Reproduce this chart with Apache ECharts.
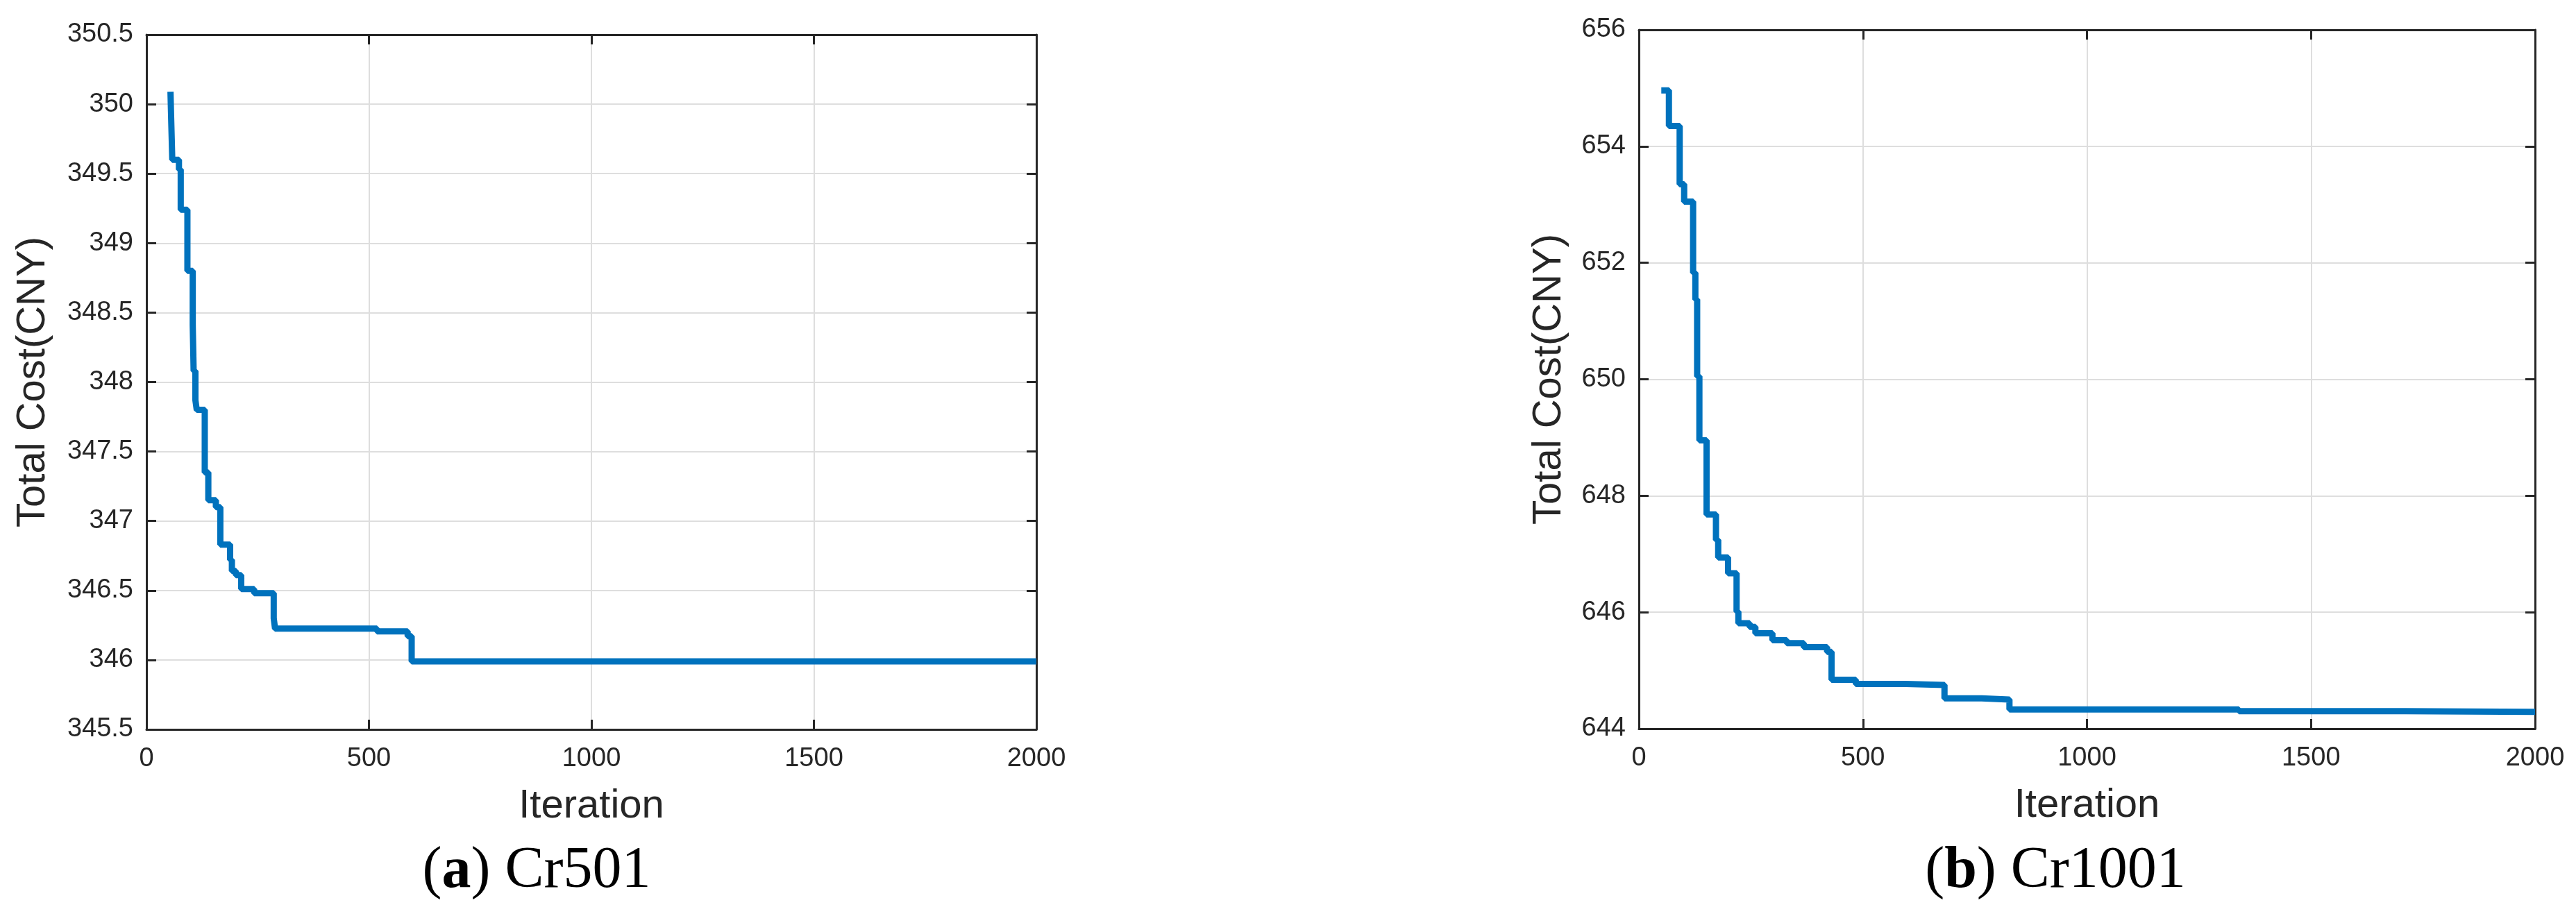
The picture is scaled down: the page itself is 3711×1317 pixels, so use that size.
<!DOCTYPE html>
<html>
<head>
<meta charset="utf-8">
<script src="https://cdn.jsdelivr.net/npm/echarts@6/dist/echarts.min.js"></script>
<style>
html,body{margin:0;padding:0;background:#fff;}
#chart{width:3711px;height:1317px;}
</style>
</head>
<body>
<div id="chart"></div>
<script>
// ---- Data ----
// (a) Cr501 : iteration at which the best cost changes, and the new best cost
const iterA = [54, 55, 58, 73, 77, 92, 104, 106, 110, 113, 131, 139, 156, 166, 188, 192, 201, 213, 242, 286, 289, 518, 587, 596, 2000];
const costA = [350.09, 349.96, 349.60, 349.53, 349.24, 348.80, 348.41, 348.08, 347.87, 347.80, 347.35, 347.15, 347.10, 346.83, 346.72, 346.64, 346.61, 346.51, 346.48, 346.30, 346.225, 346.205, 346.17, 345.99, 345.99];
// (b) Cr1001
const iterB = [50, 67, 91, 101, 121, 126, 130, 135, 151, 172, 177, 199, 218, 222, 247, 260, 298, 330, 368, 420, 430, 484, 595, 682, 765, 827, 1339, 1710, 2000];
const costB = [654.96, 654.35, 653.35, 653.05, 651.83, 651.37, 650.05, 648.95, 647.68, 647.24, 646.94, 646.67, 646.01, 645.81, 645.75, 645.64, 645.52, 645.47, 645.40, 645.32, 644.84, 644.77, 644.75, 644.52, 644.50, 644.33, 644.30, 644.29, 644.29];

const xRange = {min: 0, max: 2000, interval: 500};
const yRangeA = {min: 345.5, max: 350.5, interval: 0.5};
const yRangeB = {min: 644, max: 656, interval: 2};
const captions = ['Cr501', 'Cr1001'];
const captionLetters = ['a', 'b'];
const xName = 'Iteration';
const yName = 'Total Cost(CNY)';

// ---- Styling ----
const INK = '#262626';
const SANS = 'Arial, "Liberation Sans", sans-serif';
const SERIF = '"Times New Roman", "Liberation Serif", serif';
const LINE = '#0072BD';
const GRIDC = '#dedede';

const grids = [
  {left: 211, top: 50, width: 1282, height: 1001},
  {left: 2361, top: 43, width: 1291, height: 1007}
];

function pairs(xs, ys){ return xs.map((x,i)=>[x, ys[i]]); }
const plain = v => String(v);

const xAxes = [], yAxes = [];
[0,1].forEach(g=>{
  xAxes.push({
    type:'value', gridIndex:g, position:'bottom', min:xRange.min, max:xRange.max, interval:xRange.interval,
    name:xName, nameLocation:'middle', nameGap:82,
    nameTextStyle:{fontFamily:SANS, fontSize:58, color:INK},
    axisLine:{show:true, onZero:false, lineStyle:{color:INK, width:3}},
    axisTick:{show:true, inside:true, length:14, lineStyle:{color:INK, width:3}},
    axisLabel:{show:true, margin:24, fontFamily:SANS, fontSize:38, color:INK, formatter:plain},
    splitLine:{show:true, lineStyle:{color:GRIDC, width:2}}
  });
  xAxes.push({
    type:'value', gridIndex:g, position:'top', min:xRange.min, max:xRange.max, interval:xRange.interval,
    axisLine:{show:true, onZero:false, lineStyle:{color:INK, width:3}},
    axisTick:{show:true, inside:true, length:14, lineStyle:{color:INK, width:3}},
    axisLabel:{show:false}, splitLine:{show:false}
  });
  const yr = g===0 ? yRangeA : yRangeB;
  yAxes.push({
    type:'value', gridIndex:g, position:'left', min:yr.min, max:yr.max, interval:yr.interval,
    name:yName, nameLocation:'middle', nameGap: g===0 ? 134 : 100, nameRotate:90,
    nameTextStyle:{fontFamily:SANS, fontSize:58, color:INK},
    axisLine:{show:true, onZero:false, lineStyle:{color:INK, width:3}},
    axisTick:{show:true, inside:true, length:14, lineStyle:{color:INK, width:3}},
    axisLabel:{show:true, margin:19, fontFamily:SANS, fontSize:38, color:INK, formatter:plain},
    splitLine:{show:true, lineStyle:{color:GRIDC, width:2}}
  });
  yAxes.push({
    type:'value', gridIndex:g, position:'right', min:yr.min, max:yr.max, interval:yr.interval,
    axisLine:{show:true, onZero:false, lineStyle:{color:INK, width:3}},
    axisTick:{show:true, inside:true, length:14, lineStyle:{color:INK, width:3}},
    axisLabel:{show:false}, splitLine:{show:false}
  });
});

const captionX = [773, 2961];
const graphics = [0,1].map(g=>({
  type:'text', x:captionX[g], y:1256, silent:true,
  style:{
    text:'{p|(}{b|' + captionLetters[g] + '}{p|) ' + captions[g] + '}',
    align:'center', verticalAlign:'middle',
    rich:{
      p:{fontFamily:SERIF, fontSize:84, fill:'#000', color:'#000'},
      b:{fontFamily:SERIF, fontSize:84, fontWeight:'bold', fill:'#000', color:'#000'}
    }
  }
}));

const option = {
  backgroundColor:'#fff',
  animation:false,
  grid: grids.map(g=>Object.assign({containLabel:false, show:false}, g)),
  xAxis: xAxes,
  yAxis: yAxes,
  series: [
    {type:'line', name:'Cr501', xAxisIndex:0, yAxisIndex:0, step:'end', showSymbol:false,
     data:pairs(iterA, costA), lineStyle:{color:LINE, width:9}, itemStyle:{color:LINE}, z:3},
    {type:'line', name:'Cr1001', xAxisIndex:2, yAxisIndex:2, step:'end', showSymbol:false,
     data:pairs(iterB, costB), lineStyle:{color:LINE, width:9}, itemStyle:{color:LINE}, z:3}
  ],
  graphic: graphics
};

const chart = echarts.init(document.getElementById('chart'), null, {renderer:'canvas'});
chart.setOption(option);
</script>
</body>
</html>
